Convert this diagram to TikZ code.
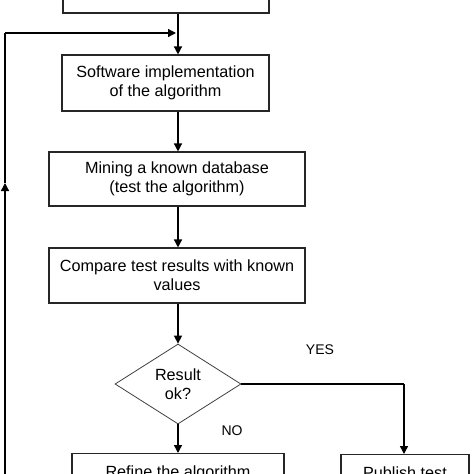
\documentclass[tikz,border=0pt]{standalone}
\usepackage{fontspec}
\setmainfont{Liberation Sans}
\usetikzlibrary{arrows.meta,shapes.geometric}
\begin{document}
\begin{tikzpicture}[x=1pt,y=-1pt,
  box/.style={draw=black!85,line width=1.1pt,rectangle,inner sep=0pt,align=center,
    font=\fontsize{16.2}{19}\selectfont},
  dec/.style={draw=black!75,line width=0.8pt,diamond,inner sep=0pt,align=center,
    minimum width=126pt,minimum height=80pt,font=\fontsize{16.2}{19}\selectfont},
  lbl/.style={font=\fontsize{14}{16}\selectfont,inner sep=0pt},
  conn/.style={line width=1.4pt,-{Triangle[length=8pt,width=8pt]}},
  plain/.style={line width=1.4pt}]
\useasboundingbox (0,0) rectangle (474,474);
\clip (0,0) rectangle (474,474);
\fill[white] (0,0) rectangle (474,474);
\coordinate (cx) at (178,0);
\node[box,minimum width=206pt,minimum height=56pt] (top) at (166,-15) {};
\node[box,minimum width=207pt,minimum height=56pt] (impl) at (165.5,83)
  {Software implementation\\of the algorithm};
\node[box,minimum width=256pt,minimum height=54pt] (mine) at (177,179)
  {Mining a known database\\(test the algorithm)};
\node[box,minimum width=256pt,minimum height=55pt] (comp) at (177,275.5)
  {Compare test results with known\\values};
\node[dec] (ok) at (178,384) {Result\\ok?};
\node[box,minimum width=212pt,minimum height=56pt,anchor=north] (refine) at (178,453)
  {Refine the algorithm\\\phantom{x}};
\node[box,minimum width=128pt,minimum height=56pt,anchor=north] (pub) at (405,454)
  {Publish test\\\phantom{x}};
\node[lbl] (yes) at (320,350) {YES};
\node[lbl] (no) at (232,431) {NO};
\coordinate (j) at (178,33);
\coordinate (fbtop) at (5,33);
\coordinate (fbmid) at (5,183);
\coordinate (fbbot) at (5,520);
\coordinate (yr) at (404,384);
\draw[plain] (top.south -| cx) -- (j);
\draw[conn] (j) -- (impl.north -| cx);
\draw[conn] (impl.south -| cx) -- (mine.north -| cx);
\draw[conn] (mine.south -| cx) -- (comp.north -| cx);
\draw[conn] (comp.south -| cx) -- (ok.north);
\draw[conn] (ok.south) -- (refine.north -| ok.south);
\draw[plain] (ok.east) -- (yr);
\draw[conn] (yr) -- (pub.north -| yr);
\draw[conn] (fbbot) -- (fbmid);
\draw[plain] (fbmid) -- (fbtop);
\draw[line width=1.4pt,-{Triangle[length=8pt,width=8pt]}] (fbtop) -- ([xshift=-2pt]j);
\end{tikzpicture}
\end{document}
